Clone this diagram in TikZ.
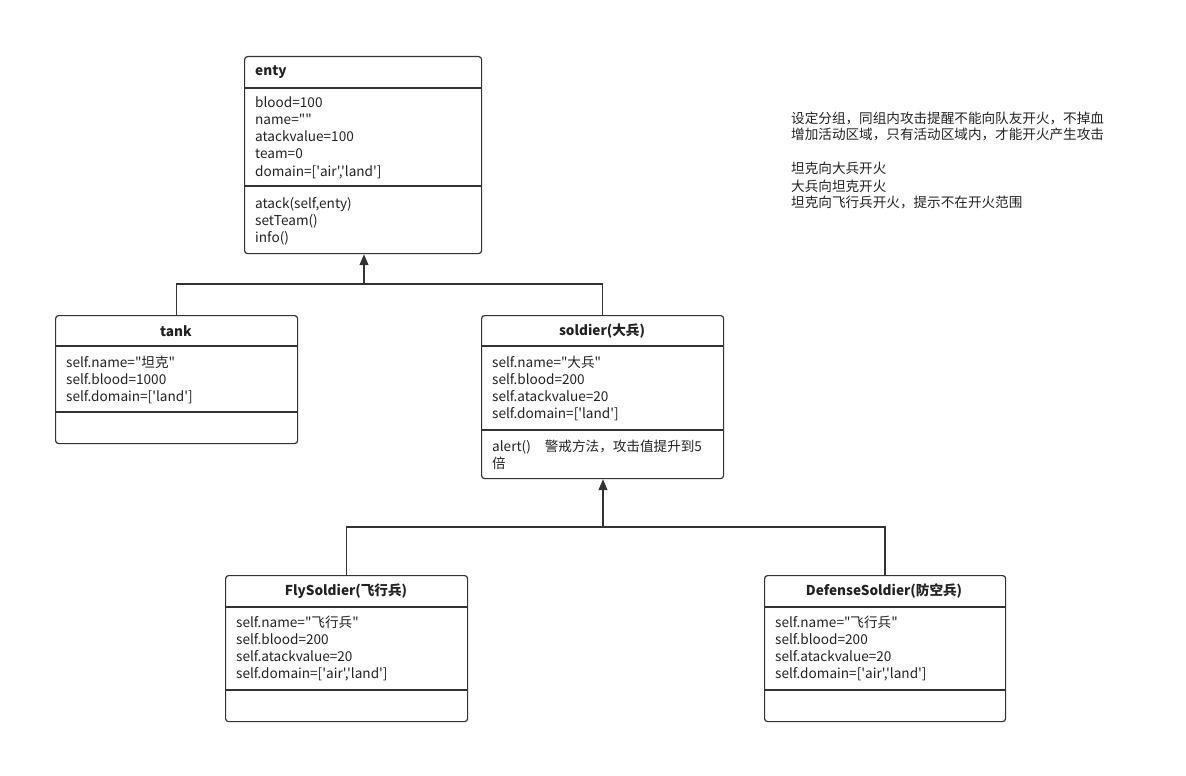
\documentclass[tikz,border=0pt]{standalone}
\usepackage{fontspec}
\setmainfont{Noto Sans CJK SC}[Ligatures=TeXOff]
\usetikzlibrary{arrows.meta}
\definecolor{linec}{HTML}{333333}
\definecolor{textc}{HTML}{222222}
\tikzset{
  classbox/.style={draw=linec, line width=1.2pt, rounded corners=3pt, anchor=north west, inner sep=0pt},
  divline/.style={draw=linec, line width=1.2pt},
  conn/.style={draw=linec, line width=1.3pt},
  inh/.style={conn, -{Triangle[length=11pt,width=9pt]}},
  hdr/.style={font=\fontsize{13.6}{17}\selectfont\bfseries, text=textc, inner sep=0pt},
  body/.style={font=\fontsize{13.6}{17.3}\selectfont, text=textc, inner sep=0pt, anchor=base west},
}
\newcommand{\lines}[1]{\begin{tabular}[t]{@{}l@{}}#1\end{tabular}}
\begin{document}
\begin{tikzpicture}[x=1pt,y=-1pt]
\useasboundingbox (0,0) rectangle (1186,776);
% enty
\node[classbox, minimum width=237pt, minimum height=197pt] (enty) at (244,56) {};
\draw[divline] (244,88) -- (481,88);
\draw[divline] (244,186) -- (481,186);
\node[hdr, anchor=west] (entyh) at (255,72) {enty};
\node[body] (entya) at (255,107) {\lines{blood=100\\name=""\\atackvalue=100\\team=0\\domain=['air','land']}};
\node[body] (entym) at (255,208) {\lines{atack(self,enty)\\setTeam()\\info()}};
% tank
\node[classbox, minimum width=242pt, minimum height=128pt] (tank) at (55,315) {};
\draw[divline] (55,346) -- (297,346);
\draw[divline] (55,412) -- (297,412);
\node[hdr] (tankh) at (176,331) {tank};
\node[body] (tanka) at (66,367) {\lines{self.name="坦克"\\self.blood=1000\\self.domain=['land']}};
% soldier
\node[classbox, minimum width=242pt, minimum height=163pt] (soldier) at (481,315) {};
\draw[divline] (481,346) -- (723,346);
\draw[divline] (481,430) -- (723,430);
\node[hdr] (soldierh) at (602,331) {soldier(大兵)};
\node[body] (soldiera) at (492,367) {\lines{self.name="大兵"\\self.blood=200\\self.atackvalue=20\\self.domain=['land']}};
\node[body] (soldierm) at (492,451) {\lines{alert()\hspace{14pt}警戒方法，攻击值提升到5\\倍}};
% fly
\node[classbox, minimum width=242pt, minimum height=146pt] (fly) at (225,575) {};
\draw[divline] (225,607) -- (467,607);
\draw[divline] (225,690) -- (467,690);
\node[hdr] (flyh) at (346,591) {FlySoldier(飞行兵)};
\node[body] (flya) at (236,627) {\lines{self.name="飞行兵"\\self.blood=200\\self.atackvalue=20\\self.domain=['air','land']}};
% defense
\node[classbox, minimum width=241pt, minimum height=146pt] (def) at (764,575) {};
\draw[divline] (764,607) -- (1005,607);
\draw[divline] (764,690) -- (1005,690);
\node[hdr] (defh) at (884,591) {DefenseSoldier(防空兵)};
\node[body] (defa) at (775,627) {\lines{self.name="飞行兵"\\self.blood=200\\self.atackvalue=20\\self.domain=['air','land']}};
% note
\node[body, font=\fontsize{13.6}{17}\selectfont] (note) at (791,123) {\lines{设定分组，同组内攻击提醒不能向队友开火，不掉血\\增加活动区域，只有活动区域内，才能开火产生攻击\\ \\坦克向大兵开火\\大兵向坦克开火\\坦克向飞行兵开火，提示不在开火范围}};
% connectors
\coordinate (j1) at (364,284);
\coordinate (j2) at (603,527);
\draw[conn] (tank.north) |- (j1);
\draw[conn] (soldier.north) |- (j1);
\draw[inh] (j1) -- (j1 |- enty.south);
\draw[conn] (fly.north) |- (j2);
\draw[conn] (def.north) |- (j2);
\draw[inh] (j2) -- (j2 |- soldier.south);
\end{tikzpicture}
\end{document}
